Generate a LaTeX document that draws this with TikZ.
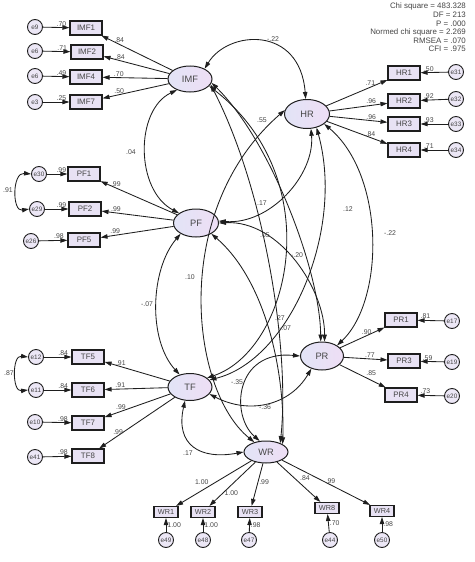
\documentclass[tikz,border=0pt]{standalone}
\usepackage{fontspec}
\setmainfont{Liberation Sans}
\usetikzlibrary{arrows.meta, shapes.geometric}
\definecolor{latleft}{RGB}{226,228,246}
\definecolor{latright}{RGB}{238,222,245}
\definecolor{obsfill}{RGB}{232,226,244}
\definecolor{errfill}{RGB}{236,231,246}
\definecolor{linedark}{RGB}{30,30,30}
\definecolor{textgray}{RGB}{70,70,70}
\tikzset{
  lat/.style={
    ellipse,
    draw=linedark,
    line width=1pt,
    left color=latleft, right color=latright,
    inner sep=0pt,
    text=textgray,
    font=\fontsize{9.3}{10}\selectfont
  },
  obs/.style={draw=linedark, line width=1.1pt, fill=obsfill, minimum width=32pt, minimum height=14pt,
    inner sep=0pt, text=textgray, font=\fontsize{7.9}{8}\selectfont},
  wrobs/.style={obs, minimum width=24pt, minimum height=11pt, font=\fontsize{7.3}{7}\selectfont},
  err/.style={circle, draw=linedark, line width=0.9pt, fill=errfill, minimum size=15pt, inner sep=0pt,
    text=textgray, font=\fontsize{6.4}{6}\selectfont},
  arrow/.style={-{Triangle[length=7pt,width=4.4pt]}, line width=0.85pt, draw=linedark},
  cov/.style={{Triangle[length=7pt,width=4.4pt]}-{Triangle[length=7pt,width=4.4pt]}, line width=0.85pt, draw=linedark},
  lbl/.style={font=\fontsize{6.9}{7}\selectfont, text=textgray, inner sep=1pt}
}
\begin{document}
\begin{tikzpicture}[x=1pt, y=-1pt]
  \useasboundingbox (0,0) rectangle (474,562);

  % fit indices
  \node[lbl, anchor=north east, align=right, font=\fontsize{7.9}{8.6}\selectfont] (fit) at (467,2)
    {Chi square = 483.328\\ DF = 213\\ P = .000\\ Normed chi square = 2.269\\ RMSEA = .070\\ CFI = .975};

  % latent factors
  \node[lat, minimum width=44pt, minimum height=26pt] (IMF) at (190,79) {IMF};
  \node[lat, minimum width=45pt, minimum height=29pt] (HR) at (307,114) {HR};
  \node[lat, minimum width=45pt, minimum height=28pt] (PF) at (196,223) {PF};
  \node[lat, minimum width=44pt, minimum height=27pt] (TF) at (190,387) {TF};
  \node[lat, minimum width=43pt, minimum height=28pt] (PR) at (322,356) {PR};
  \node[lat, minimum width=44pt, minimum height=22pt] (WR) at (266,452) {WR};

  % IMF items
  \node[obs] (IMF1) at (86,28) {IMF1};
  \node[obs] (IMF2) at (87,52) {IMF2};
  \node[obs] (IMF4) at (86,77) {IMF4};
  \node[obs] (IMF7) at (86,102) {IMF7};
  \node[err] (e9) at (35,27) {e9};
  \node[err] (e6a) at (35,51) {e6};
  \node[err] (e6b) at (35,76) {e6};
  \node[err] (e3) at (35,102) {e3};

  % HR items
  \node[obs] (HR1) at (404,73) {HR1};
  \node[obs] (HR2) at (404,101) {HR2};
  \node[obs] (HR3) at (404,124) {HR3};
  \node[obs] (HR4) at (404,150) {HR4};
  \node[err] (e31) at (456,72) {e31};
  \node[err] (e32) at (456,99) {e32};
  \node[err] (e33) at (456,124) {e33};
  \node[err] (e34) at (456,150) {e34};

  % PF items
  \node[obs] (PF1) at (84,174) {PF1};
  \node[obs] (PF2) at (85,209) {PF2};
  \node[obs] (PF5) at (84,240) {PF5};
  \node[err] (e30) at (39,174) {e30};
  \node[err] (e29) at (37,209) {e29};
  \node[err] (e26) at (31,241) {e26};

  % TF items
  \node[obs] (TF5) at (88,357) {TF5};
  \node[obs] (TF6) at (88,390) {TF6};
  \node[obs] (TF7) at (88,423) {TF7};
  \node[obs] (TF8) at (88,456) {TF8};
  \node[err] (e12) at (36,357) {e12};
  \node[err] (e11) at (36,390) {e11};
  \node[err] (e10) at (35,422) {e10};
  \node[err] (e41) at (35,457) {e41};

  % PR items
  \node[obs] (PR1) at (401,320) {PR1};
  \node[obs] (PR3) at (404,361) {PR3};
  \node[obs] (PR4) at (401,395) {PR4};
  \node[err] (e17) at (452,321) {e17};
  \node[err] (e19) at (452,362) {e19};
  \node[err] (e20) at (452,396) {e20};

  % WR items
  \node[wrobs] (WR1) at (166,512) {WR1};
  \node[wrobs] (WR2) at (203,512) {WR2};
  \node[wrobs] (WR3) at (250,512) {WR3};
  \node[wrobs] (WR8) at (327,508) {WR8};
  \node[wrobs] (WR4) at (382,511) {WR4};
  \node[err] (e49) at (166,540) {e49};
  \node[err] (e48) at (203,540) {e48};
  \node[err] (e47) at (249,540) {e47};
  \node[err] (e44) at (330,540) {e44};
  \node[err] (e50) at (382,540) {e50};

  % loadings and errors
  \draw[arrow] (IMF) -- node[lbl, above, pos=.75] {.84} (IMF1);
  \draw[arrow] (IMF) -- node[lbl, above, pos=.75] {.84} (IMF2);
  \draw[arrow] (IMF) -- node[lbl, above, pos=.75] {.70} (IMF4);
  \draw[arrow] (IMF) -- node[lbl, above, pos=.75] {.50} (IMF7);
  \draw[arrow] (e9) -- node[lbl, above, pos=.7] {.70} (IMF1);
  \draw[arrow] (e6a) -- node[lbl, above, pos=.7] {.71} (IMF2);
  \draw[arrow] (e6b) -- node[lbl, above, pos=.7] {.49} (IMF4);
  \draw[arrow] (e3) -- node[lbl, above, pos=.7] {.25} (IMF7);

  \draw[arrow] (HR) -- node[lbl, above, pos=.72] {.71} (HR1);
  \draw[arrow] (HR) -- node[lbl, above, pos=.72] {.96} (HR2);
  \draw[arrow] (HR) -- node[lbl, above, pos=.72] {.96} (HR3);
  \draw[arrow] (HR) -- node[lbl, above, pos=.72] {.84} (HR4);
  \draw[arrow] (e31) -- node[lbl, above, pos=.7] {.50} (HR1);
  \draw[arrow] (e32) -- node[lbl, above, pos=.7] {.92} (HR2);
  \draw[arrow] (e33) -- node[lbl, above, pos=.7] {.93} (HR3);
  \draw[arrow] (e34) -- node[lbl, above, pos=.7] {.71} (HR4);

  \draw[arrow] (PF) -- node[lbl, above, pos=.8] {.99} (PF1);
  \draw[arrow] (PF) -- node[lbl, above, pos=.8] {.99} (PF2);
  \draw[arrow] (PF) -- node[lbl, above, pos=.8] {.99} (PF5);
  \draw[arrow] (e30) -- node[lbl, above, pos=.7] {.99} (PF1);
  \draw[arrow] (e29) -- node[lbl, above, pos=.7] {.99} (PF2);
  \draw[arrow] (e26) -- node[lbl, above, pos=.7] {.98} (PF5);

  \draw[arrow] (TF) -- node[lbl, above, pos=.75] {.91} (TF5);
  \draw[arrow] (TF) -- node[lbl, above, pos=.75] {.91} (TF6);
  \draw[arrow] (TF) -- node[lbl, above, pos=.75] {.99} (TF7);
  \draw[arrow] (TF) -- node[lbl, above, pos=.75] {.99} (TF8);
  \draw[arrow] (e12) -- node[lbl, above, pos=.7] {.84} (TF5);
  \draw[arrow] (e11) -- node[lbl, above, pos=.7] {.84} (TF6);
  \draw[arrow] (e10) -- node[lbl, above, pos=.7] {.98} (TF7);
  \draw[arrow] (e41) -- node[lbl, above, pos=.7] {.98} (TF8);

  \draw[arrow] (PR) -- node[lbl, above, pos=.6] {.90} (PR1);
  \draw[arrow] (PR) -- node[lbl, above, pos=.6] {.77} (PR3);
  \draw[arrow] (PR) -- node[lbl, above right, pos=.55] {.85} (PR4);
  \draw[arrow] (e17) -- node[lbl, above, pos=.7] {.81} (PR1);
  \draw[arrow] (e19) -- node[lbl, above, pos=.7] {.59} (PR3);
  \draw[arrow] (e20) -- node[lbl, above, pos=.7] {.73} (PR4);

  \draw[arrow] (WR) -- node[lbl, above left, pos=.55] {1.00} (WR1);
  \draw[arrow] (WR) -- node[lbl, right, pos=.7] {1.00} (WR2);
  \draw[arrow] (WR) -- node[lbl, right, pos=.45] {.99} (WR3);
  \draw[arrow] (WR) -- node[lbl, above right, pos=.5] {.84} (WR8);
  \draw[arrow] (WR) -- node[lbl, above, pos=.55] {.99} (WR4);
  \draw[arrow] (e49) -- node[lbl, right, pos=.5] {1.00} (WR1);
  \draw[arrow] (e48) -- node[lbl, right, pos=.5] {1.00} (WR2);
  \draw[arrow] (e47) -- node[lbl, right, pos=.5] {.98} (WR3);
  \draw[arrow] (e44) -- node[lbl, right, pos=.5] {.70} (WR8);
  \draw[arrow] (e50) -- node[lbl, right, pos=.5] {.98} (WR4);

  % error covariances
  \draw[cov] (e30.west) .. controls (12,172) and (12,212) .. (e29.west);
  \draw[cov] (e12.west) .. controls (12,355) and (12,392) .. (e11.west);
  \node[lbl] (r91) at (8,190) {.91};
  \node[lbl] (r87) at (9,373) {.87};

  % factor covariances
  \draw[cov] (IMF.35) .. controls (228,30) and (300,25) .. (HR.95);
  \draw[cov] (IMF.220) .. controls (135,110) and (135,190) .. (PF.150);
  \draw[cov] (PF.215) .. controls (150,270) and (148,340) .. (TF.130);
  \draw[cov] (TF.250) .. controls (175,445) and (200,460) .. (WR.180);
  \draw[cov] (HR.285) .. controls (315,175) and (270,225) .. (PF.5);
  \draw[cov] (HR.330) .. controls (385,175) and (385,300) .. (PR.35);
  \draw[cov] (HR.305) .. controls (345,230) and (290,360) .. (TF.20);
  \draw[cov] (IMF.345) .. controls (265,190) and (290,350) .. (WR.32);
  \draw[cov] (PF.325) .. controls (265,280) and (285,370) .. (WR.25);
  \draw[cov] (IMF.350) .. controls (270,140) and (320,270) .. (PR.95);
  \draw[cov] (PF.0) .. controls (280,220) and (325,290) .. (PR.80);
  \draw[cov] (IMF.340) .. controls (330,180) and (290,350) .. (TF.28);
  \draw[cov] (HR.170) .. controls (170,210) and (190,390) .. (WR.140);
  \draw[cov] (PR.180) .. controls (235,350) and (230,415) .. (WR.120);
  \draw[cov] (TF.340) .. controls (250,415) and (290,405) .. (PR.230);

  \node[lbl] (r1) at (273,39) {-.22};
  \node[lbl] (r2) at (131,152) {.04};
  \node[lbl] (r3) at (147,304) {-.07};
  \node[lbl] (r4) at (188,453) {.17};
  \node[lbl] (r5) at (262,120) {.55};
  \node[lbl] (r6) at (262,203) {.17};
  \node[lbl] (r7) at (265,235) {.05};
  \node[lbl] (r8) at (297,255) {-.20};
  \node[lbl] (r9) at (190,277) {.10};
  \node[lbl] (r10) at (280,318) {.27};
  \node[lbl] (r11) at (285,328) {-.07};
  \node[lbl] (r12) at (237,382) {-.35};
  \node[lbl] (r13) at (265,407) {-.36};
  \node[lbl] (r14) at (348,209) {.12};
  \node[lbl] (r15) at (390,233) {-.22};
\end{tikzpicture}
\end{document}
